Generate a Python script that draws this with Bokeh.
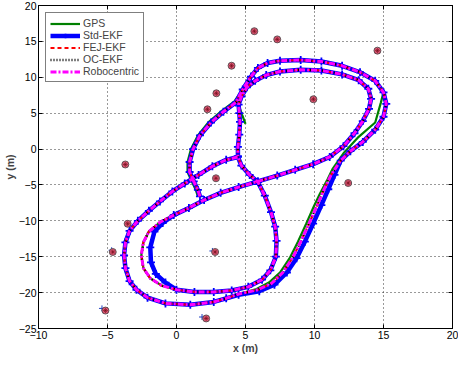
from bokeh.plotting import figure
from bokeh.models import Range1d, FixedTicker, Legend, LegendItem, LinearAxis
from bokeh.embed import file_html
from bokeh.resources import INLINE

# ---------------- data (metres) ----------------
lobe_left = [(1.7, -6.6), (1.55, -5.7), (1.25, -4.5), (0.95, -3.2), (0.95, -1.8), (1.2, 0.0),
             (1.7, 1.9), (2.5, 3.7), (3.4, 5.2), (4.3, 6.5)]
outer_top = [(4.8, 8.3), (5.4, 10.1), (5.9, 11.3), (6.6, 12.0), (7.5, 12.3), (9.0, 12.4),
             (10.5, 12.2), (12.0, 11.6), (13.3, 10.7), (14.4, 9.5), (15.0, 7.9)]
outer_right = [(15.2, 6.3), (15.0, 4.5), (14.4, 2.7), (13.5, 1.0), (12.6, -0.3), (11.9, -1.6)]
big_diag = [(11.2, -3.6), (10.7, -5.6), (10.2, -7.8), (9.6, -10.4), (9.0, -12.9), (8.4, -15.2),
            (7.7, -17.2), (6.9, -18.7), (5.9, -19.6), (4.5, -20.2), (3.6, -20.8)]
lower_bottom = [(2.7, -21.3), (1.0, -21.7), (-0.8, -21.5), (-2.1, -20.7), (-2.9, -19.6), (-3.4, -18.4)]
outer_left = [(-3.7, -16.6), (-3.8, -14.8), (-3.7, -13.0), (-3.4, -11.4), (-2.8, -10.0), (-2.0, -8.6)]
lobe_inner = [(-1.2, -7.3), (-0.3, -5.9), (0.6, -4.8), (1.6, -3.6), (2.6, -2.4), (3.6, -1.5), (4.45, -1.1)]
central = [(4.7, -2.3), (5.3, -3.6), (5.9, -4.6), (6.4, -6.5), (6.85, -8.8), (7.15, -10.8),
           (7.25, -12.8), (7.2, -15.0), (6.8, -16.9), (6.2, -18.2), (5.2, -19.2), (4.0, -19.7),
           (2.7, -19.9), (1.3, -19.9), (0.0, -19.6)]
inner_left = [(-1.1, -19.0), (-1.9, -18.0), (-2.4, -16.6), (-2.55, -14.8), (-2.4, -13.0),
              (-2.0, -11.5), (-1.2, -10.2)]
lower_diag = [(-0.2, -9.2), (0.9, -8.2), (2.0, -7.1), (3.2, -6.1)]
long_diag = [(4.5, -5.3), (5.9, -4.5), (7.3, -3.7), (8.6, -2.9), (9.9, -2.1), (11.1, -1.1),
             (12.1, 0.4), (12.9, 2.2), (13.5, 3.9), (13.95, 5.6), (14.1, 7.0), (13.9, 8.4),
             (13.2, 9.6), (12.0, 10.4), (10.5, 10.95), (9.0, 11.05), (7.5, 10.8), (6.5, 10.3),
             (5.7, 9.5), (5.1, 8.6), (4.7, 7.3), (4.5, 6.2)]
central_top = [(4.55, 5.0), (4.6, 3.8), (4.55, 2.0), (4.45, 0.3), (4.45, -1.0)]

# GPS deviations
gps_lobe_left = [(1.55, -6.6), (1.4, -5.7), (1.1, -4.5), (0.8, -3.2), (0.8, -1.8), (1.05, 0.0),
                 (1.55, 1.9), (2.35, 3.8), (3.3, 5.35), (4.2, 6.65)]
gps_outer_right = [(14.8, 6.4), (14.4, 3.7), (13.2, 1.7), (12.1, -0.6), (11.3, -2.8)]
gps_big_diag = [(10.9, -4.4), (10.4, -6.2), (9.95, -8.0), (9.4, -10.4), (8.8, -12.9), (8.2, -15.2),
                (7.5, -17.2), (6.7, -18.6), (5.8, -19.5), (4.5, -20.2), (3.6, -20.8)]
gps_end = [(4.75, 4.8), (5.0, 3.5)]

# Std-EKF deviations
std_big_diag = [(11.45, -3.6), (11.0, -5.6), (10.5, -7.8), (9.9, -10.4), (9.3, -12.9), (8.7, -15.2),
                (8.0, -17.2), (7.1, -18.9), (6.0, -19.8), (4.5, -20.3), (3.6, -20.8)]
std_inner_left = [(-0.8, -18.6), (-1.5, -17.4), (-1.85, -15.8), (-1.9, -13.7), (-1.6, -11.5),
                  (-1.0, -10.3)]

# landmarks
lm_x = [5.64, 7.30, 14.56, 3.99, 2.89, 2.24, 9.92, -3.71, 2.86, 12.44, -3.54, -4.62, 2.80, -5.15, 2.15]
lm_y = [16.42, 15.28, 13.71, 11.61, 7.77, 5.54, 6.94, -2.15, -4.07, -4.73, -10.41, -14.34, -14.34, -22.5, -23.6]
lm_est_x = [-5.4, 1.85, -4.7, 2.6]
lm_est_y = [-22.2, -23.4, -14.1, -14.2]

x_ticks = [-10, -5, 0, 5, 10, 15, 20]
y_ticks = [-25, -20, -15, -10, -5, 0, 5, 10, 15, 20]


def route(*segs):
    xs, ys = [], []
    for s in segs:
        for (x, y) in s:
            xs.append(x)
            ys.append(y)
    return xs, ys


est_x, est_y = route(lobe_left, outer_top, outer_right, big_diag, lower_bottom, outer_left,
                     lobe_inner, central, inner_left, lower_diag, long_diag, central_top)
gps_x, gps_y = route(gps_lobe_left, outer_top, gps_outer_right, gps_big_diag, lower_bottom,
                     outer_left, lobe_inner, central, inner_left, lower_diag, long_diag, gps_end)
std_x, std_y = route(lobe_left, outer_top, outer_right, std_big_diag, lower_bottom, outer_left,
                     lobe_inner, central, std_inner_left, lower_diag, long_diag, central_top)

FONT = "Liberation Sans"

p = figure(width=458, height=356, output_backend="svg", toolbar_location=None,
           x_range=Range1d(-10, 20), y_range=Range1d(-25, 20),
           min_border_left=0, min_border_right=6, min_border_top=5, min_border_bottom=0)

p.outline_line_color = "black"
p.outline_line_width = 1
p.background_fill_color = "white"
p.border_fill_color = "white"

for ax in (p.xaxis, p.yaxis):
    ax.major_label_text_font = FONT
    ax.major_label_text_font_size = "10.5px"
    ax.major_label_text_color = "black"
    ax.axis_label_text_font = FONT
    ax.axis_label_text_font_style = "bold"
    ax.axis_label_text_font_size = "10.5px"
    ax.axis_label_standoff = 0
    ax.major_label_standoff = 2
    ax.major_tick_in = 4
    ax.major_tick_out = 0
    ax.minor_tick_line_color = None
    ax.axis_line_color = "black"
    ax.major_tick_line_color = "black"

p.xaxis.ticker = FixedTicker(ticks=x_ticks)
p.yaxis.ticker = FixedTicker(ticks=y_ticks)
p.xaxis.axis_label = "x (m)"
p.yaxis.axis_label = "y (m)"

# inward ticks on the top and right edges (labels not drawn)
top_ax = LinearAxis(ticker=FixedTicker(ticks=x_ticks), major_label_text_font_size="1px",
                    major_label_text_color=None, major_label_standoff=0,
                    major_tick_in=4, major_tick_out=0,
                    minor_tick_line_color=None, axis_line_color="black")
right_ax = LinearAxis(ticker=FixedTicker(ticks=y_ticks), major_label_text_font_size="1px",
                      major_label_text_color=None, major_label_standoff=0,
                      major_tick_in=4, major_tick_out=0,
                      minor_tick_line_color=None, axis_line_color="black")
p.add_layout(top_ax, "above")
p.add_layout(right_ax, "right")

for g in (p.xgrid, p.ygrid):
    g.grid_line_color = "#333333"
    g.grid_line_dash = "1 3"
    g.grid_line_width = 1

r_gps = p.line(gps_x, gps_y, line_color="#008000", line_width=2.2)
r_std_l = p.line(std_x, std_y, line_color="#0000ff", line_width=4.5)
r_std_m = p.scatter(std_x, std_y, marker="cross", size=8, line_color="#0000ff", line_width=1.8)
r_fej = p.line(est_x, est_y, line_color="#ff0000", line_width=2.2, line_dash="4 3")
r_oc = p.line(est_x, est_y, line_color="black", line_width=2.5, line_dash="1 2")
r_rob = p.line(est_x, est_y, line_color="#ff00ff", line_width=3, line_dash="6 2 2 2")

p.scatter(lm_est_x, lm_est_y, marker="cross", size=6, line_color="#2040c0", line_width=1)
p.scatter(lm_x, lm_y, marker="circle", size=7, fill_color="#e35d7a", line_color="#404040", line_width=0.8)
p.scatter(lm_x, lm_y, marker="asterisk", size=5, line_color="#7a1020", line_width=0.7)

legend = Legend(items=[
    LegendItem(label="GPS", renderers=[r_gps]),
    LegendItem(label="Std-EKF", renderers=[r_std_l, r_std_m]),
    LegendItem(label="FEJ-EKF", renderers=[r_fej]),
    LegendItem(label="OC-EKF", renderers=[r_oc]),
    LegendItem(label="Robocentric", renderers=[r_rob]),
], location="top_left")
legend.margin = 7
legend.padding = 4
legend.spacing = 0
legend.label_height = 11
legend.glyph_height = 11
legend.glyph_width = 30
legend.label_standoff = 3
legend.label_text_font = FONT
legend.label_text_font_size = "10.5px"
legend.border_line_color = "black"
legend.border_line_width = 1
legend.background_fill_alpha = 1
p.add_layout(legend)

open("out.html", "w").write(file_html(p, INLINE))
